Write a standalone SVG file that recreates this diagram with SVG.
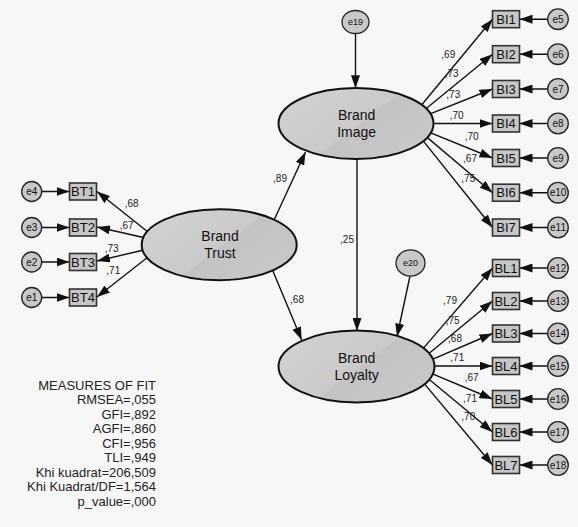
<svg xmlns="http://www.w3.org/2000/svg" width="578" height="527" viewBox="0 0 578 527">
<defs>
<linearGradient id="lat" x1="0" y1="0.1" x2="1" y2="0.7">
<stop offset="0" stop-color="#c2c2c2"/>
<stop offset="0.12" stop-color="#d0d0d0"/>
<stop offset="0.56" stop-color="#cacaca"/>
<stop offset="0.57" stop-color="#c3c3c3"/>
<stop offset="1" stop-color="#c8c8c8"/>
</linearGradient>
<marker id="ah" markerUnits="userSpaceOnUse" markerWidth="13" markerHeight="9" viewBox="0 0 13 9" refX="13" refY="4.5" orient="auto">
<path d="M0,0 L13,4.5 L0,9 z" fill="#111"/>
</marker>
<style>
.c{stroke:#111;stroke-width:1.4;fill:none;marker-end:url(#ah)}
.lat{fill:url(#lat);stroke:#111;stroke-width:2}
.box{fill:#c6c6c6;stroke:#333;stroke-width:1.6}
.err{fill:#c8c8c8;stroke:#222;stroke-width:1.3}
.t{font-family:"Liberation Sans",Arial,sans-serif;fill:#111;text-anchor:middle}
.lt{font-size:14px}
.bx{font-size:13px}
.e{font-size:10px}
.es{font-size:9px}
.w{font-size:10px;fill:#222}
.m{font-family:"Liberation Sans",Arial,sans-serif;font-size:13px;fill:#222;text-anchor:end}
</style>
</defs>
<rect x="0" y="0" width="578" height="527" fill="#f7f7f7"/>
<g id="connectors">
<path class="c" d="M31.7,191.5 L69.5,191.5"/>
<path class="c" d="M31.7,227.5 L69.5,227.5"/>
<path class="c" d="M31.7,262 L69.5,262"/>
<path class="c" d="M31.7,297.5 L69.5,297.5"/>
<path class="c" d="M148,232 L97,191.5"/>
<path class="c" d="M148,238.5 L97,227"/>
<path class="c" d="M148,249 L97,261"/>
<path class="c" d="M148,257 L97,297"/>
<path class="c" d="M272,224.5 L305.5,152"/>
<path class="c" d="M270,264 L301.7,340"/>
<path class="c" d="M357,155 L357,331"/>
<path class="c" d="M355.5,34 L355.5,88.3"/>
<path class="c" d="M410,276 L397,336.5"/>
<path class="c" d="M422,104.5 L492.5,19.2"/>
<path class="c" d="M424.4,110 L492.5,54.2"/>
<path class="c" d="M427,115.2 L492.5,89"/>
<path class="c" d="M430,123.5 L492.5,123.5"/>
<path class="c" d="M427,131.4 L492.5,158"/>
<path class="c" d="M424.5,135.1 L492.5,192.7"/>
<path class="c" d="M422,139.4 L492.5,227.5"/>
<path class="c" d="M420,352.1 L492.5,268"/>
<path class="c" d="M424.4,357.2 L492.5,301"/>
<path class="c" d="M427.7,361.3 L492.5,333.5"/>
<path class="c" d="M430,366 L492.5,366"/>
<path class="c" d="M427.7,371.8 L492.5,399"/>
<path class="c" d="M424.5,375.5 L492.5,432"/>
<path class="c" d="M421.1,379.9 L492.5,465"/>
<path class="c" d="M558,19.2 L519.5,19.2"/>
<path class="c" d="M558,54.2 L519.5,54.2"/>
<path class="c" d="M558,89 L519.5,89"/>
<path class="c" d="M558,123.5 L519.5,123.5"/>
<path class="c" d="M558,158 L519.5,158"/>
<path class="c" d="M558,192.7 L519.5,192.7"/>
<path class="c" d="M558,227.5 L519.5,227.5"/>
<path class="c" d="M558,268 L519.5,268"/>
<path class="c" d="M558,301 L519.5,301"/>
<path class="c" d="M558,333.5 L519.5,333.5"/>
<path class="c" d="M558,366 L519.5,366"/>
<path class="c" d="M558,399 L519.5,399"/>
<path class="c" d="M558,432 L519.5,432"/>
<path class="c" d="M558,465 L519.5,465"/>
</g>
<g id="weights" class="t w">
<text x="131.7" y="207">,68</text>
<text x="126.7" y="228.6">,67</text>
<text x="111.7" y="252">,73</text>
<text x="113.3" y="273.6">,71</text>
<text x="280" y="182">,89</text>
<text x="297" y="302.5">,68</text>
<text x="347" y="243">,25</text>
<text x="448.3" y="57.6">,69</text>
<text x="451.7" y="77">,73</text>
<text x="453.3" y="97.6">,73</text>
<text x="456.7" y="118.6">,70</text>
<text x="471.7" y="140.3">,70</text>
<text x="470" y="162">,67</text>
<text x="468.3" y="182">,75</text>
<text x="450" y="304.3">,79</text>
<text x="452.7" y="323.6">,75</text>
<text x="455" y="342">,68</text>
<text x="457.3" y="361.3">,71</text>
<text x="471.7" y="381">,67</text>
<text x="470" y="402">,71</text>
<text x="468.3" y="420.3">,70</text>
</g>
<g id="BrandTrust"><ellipse class="lat" cx="219.2" cy="244.7" rx="77.5" ry="35.5"/><text class="t lt" x="220" y="241">Brand</text><text class="t lt" x="220" y="257.7">Trust</text></g>
<g id="BrandImage"><ellipse class="lat" cx="356" cy="123.6" rx="77.5" ry="35.5"/><text class="t lt" x="356.7" y="120">Brand</text><text class="t lt" x="356.7" y="136.7">Image</text></g>
<g id="BrandLoyalty"><ellipse class="lat" cx="356.5" cy="366.5" rx="78" ry="36"/><text class="t lt" x="356.7" y="363.3">Brand</text><text class="t lt" x="356.7" y="380">Loyalty</text></g>
<g id="e19"><ellipse class="err" cx="355.5" cy="22" rx="13.5" ry="11.5"/><text class="t es" x="355.5" y="25.2">e19</text></g>
<g id="e20"><ellipse class="err" cx="410.5" cy="263" rx="14.5" ry="13.2"/><text class="t es" x="410.5" y="266.2">e20</text></g>
<g id="BT1"><rect class="box" x="69.5" y="183" width="27" height="17"/><text class="t bx" x="83" y="196">BT1</text></g>
<g id="BT2"><rect class="box" x="69.5" y="219" width="27" height="17"/><text class="t bx" x="83" y="232">BT2</text></g>
<g id="BT3"><rect class="box" x="69.5" y="253.5" width="27" height="17"/><text class="t bx" x="83" y="266.5">BT3</text></g>
<g id="BT4"><rect class="box" x="69.5" y="289" width="27" height="17"/><text class="t bx" x="83" y="302">BT4</text></g>
<g id="e4"><circle class="err" cx="31.7" cy="191.5" r="10"/><text class="t e" x="31.7" y="195">e4</text></g>
<g id="e3"><circle class="err" cx="31.7" cy="227.5" r="10"/><text class="t e" x="31.7" y="231">e3</text></g>
<g id="e2"><circle class="err" cx="31.7" cy="262" r="10"/><text class="t e" x="31.7" y="265.5">e2</text></g>
<g id="e1"><circle class="err" cx="31.7" cy="297.5" r="10"/><text class="t e" x="31.7" y="301">e1</text></g>
<g id="BI1"><rect class="box" x="492.5" y="10.7" width="27" height="17"/><text class="t bx" x="506" y="23.7">BI1</text></g>
<g id="BI2"><rect class="box" x="492.5" y="45.7" width="27" height="17"/><text class="t bx" x="506" y="58.7">BI2</text></g>
<g id="BI3"><rect class="box" x="492.5" y="80.5" width="27" height="17"/><text class="t bx" x="506" y="93.5">BI3</text></g>
<g id="BI4"><rect class="box" x="492.5" y="115" width="27" height="17"/><text class="t bx" x="506" y="128">BI4</text></g>
<g id="BI5"><rect class="box" x="492.5" y="149.5" width="27" height="17"/><text class="t bx" x="506" y="162.5">BI5</text></g>
<g id="BI6"><rect class="box" x="492.5" y="184.2" width="27" height="17"/><text class="t bx" x="506" y="197.2">BI6</text></g>
<g id="BI7"><rect class="box" x="492.5" y="219" width="27" height="17"/><text class="t bx" x="506" y="232">BI7</text></g>
<g id="BL1"><rect class="box" x="492.5" y="259.5" width="27" height="17"/><text class="t bx" x="506" y="272.5">BL1</text></g>
<g id="BL2"><rect class="box" x="492.5" y="292.5" width="27" height="17"/><text class="t bx" x="506" y="305.5">BL2</text></g>
<g id="BL3"><rect class="box" x="492.5" y="325" width="27" height="17"/><text class="t bx" x="506" y="338">BL3</text></g>
<g id="BL4"><rect class="box" x="492.5" y="357.5" width="27" height="17"/><text class="t bx" x="506" y="370.5">BL4</text></g>
<g id="BL5"><rect class="box" x="492.5" y="390.5" width="27" height="17"/><text class="t bx" x="506" y="403.5">BL5</text></g>
<g id="BL6"><rect class="box" x="492.5" y="423.5" width="27" height="17"/><text class="t bx" x="506" y="436.5">BL6</text></g>
<g id="BL7"><rect class="box" x="492.5" y="456.5" width="27" height="17"/><text class="t bx" x="506" y="469.5">BL7</text></g>
<g id="e5"><circle class="err" cx="558" cy="19.2" r="10.3"/><text class="t e" x="558" y="22.7">e5</text></g>
<g id="e6"><circle class="err" cx="558" cy="54.2" r="10.3"/><text class="t e" x="558" y="57.7">e6</text></g>
<g id="e7"><circle class="err" cx="558" cy="89" r="10.3"/><text class="t e" x="558" y="92.5">e7</text></g>
<g id="e8"><circle class="err" cx="558" cy="123.5" r="10.3"/><text class="t e" x="558" y="127">e8</text></g>
<g id="e9"><circle class="err" cx="558" cy="158" r="10.3"/><text class="t e" x="558" y="161.5">e9</text></g>
<g id="e10"><circle class="err" cx="558" cy="192.7" r="10.3"/><text class="t e" x="558" y="196.2">e10</text></g>
<g id="e11"><circle class="err" cx="558" cy="227.5" r="10.3"/><text class="t e" x="558" y="231">e11</text></g>
<g id="e12"><circle class="err" cx="558" cy="268" r="10.3"/><text class="t e" x="558" y="271.5">e12</text></g>
<g id="e13"><circle class="err" cx="558" cy="301" r="10.3"/><text class="t e" x="558" y="304.5">e13</text></g>
<g id="e14"><circle class="err" cx="558" cy="333.5" r="10.3"/><text class="t e" x="558" y="337">e14</text></g>
<g id="e15"><circle class="err" cx="558" cy="366" r="10.3"/><text class="t e" x="558" y="369.5">e15</text></g>
<g id="e16"><circle class="err" cx="558" cy="399" r="10.3"/><text class="t e" x="558" y="402.5">e16</text></g>
<g id="e17"><circle class="err" cx="558" cy="432" r="10.3"/><text class="t e" x="558" y="435.5">e17</text></g>
<g id="e18"><circle class="err" cx="558" cy="465" r="10.3"/><text class="t e" x="558" y="468.5">e18</text></g>
<g id="fit" class="m">
<text x="156" y="389.5">MEASURES OF FIT</text>
<text x="156" y="404">RMSEA=,055</text>
<text x="156" y="418.5">GFI=,892</text>
<text x="156" y="433">AGFI=,860</text>
<text x="156" y="447.5">CFI=,956</text>
<text x="156" y="462">TLI=,949</text>
<text x="156" y="476.5">Khi kuadrat=206,509</text>
<text x="156" y="491">Khi Kuadrat/DF=1,564</text>
<text x="156" y="505.5">p_value=,000</text>
</g>
</svg>
